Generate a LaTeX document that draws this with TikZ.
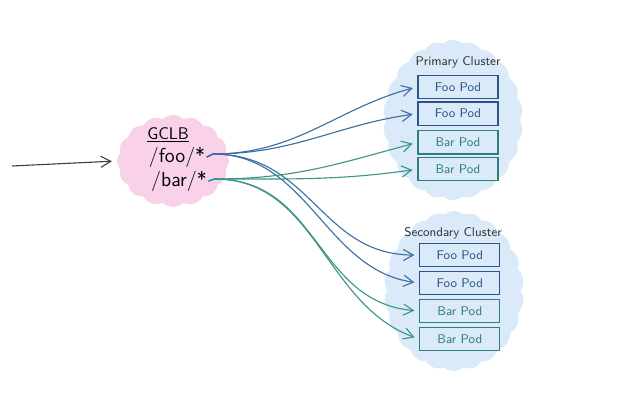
\documentclass[tikz,border=0pt]{standalone}
\usepackage{tikz}
\usetikzlibrary{shapes.symbols, arrows.meta, positioning}
\definecolor{foocol}{HTML}{2E5489}
\definecolor{barcol}{HTML}{2F7D7E}
\definecolor{fooline}{HTML}{3D6FA3}
\definecolor{barline}{HTML}{3E9587}
\definecolor{lbpink}{HTML}{F9D2EA}
\definecolor{clblue}{HTML}{DAEAF8}
\tikzstyle{lbcloud}  = [cloud, cloud puffs=16, cloud puff arc=90, aspect=1.2, minimum width=2.8cm, minimum height=2.3cm, fill=lbpink]
\tikzstyle{clcloud}  = [cloud, cloud puffs=22, cloud puff arc=80, aspect=0.85, minimum width=3.5cm, minimum height=4.0cm, fill=clblue]
\tikzstyle{route}    = [font=\sffamily\Large, inner sep=1pt]
\tikzstyle{cltitle}  = [font=\sffamily\small, text=black!80]
\tikzstyle{foopod}   = [rectangle, minimum width=2cm, minimum height=0.58cm, draw=foocol, text=foocol, thick, font=\sffamily\small]
\tikzstyle{barpod}   = [rectangle, minimum width=2cm, minimum height=0.58cm, draw=barcol, text=barcol, thick, font=\sffamily\small]
\tikzstyle{arrow}    = [thick, ->, >={Straight Barb[length=2.5mm, width=2.8mm]}, shorten >=0.12cm]

\begin{document}
\begin{tikzpicture}[x=0.025cm, y=-0.025cm, node distance=0.67cm]
    \useasboundingbox (0,0) rectangle (640,400);

    % clouds
    \node (lb)       [lbcloud] at (173,161) {};
    \node (primary)  [clcloud] at (453,120) {};
    \node (secondary)[clcloud] at (454,291) {};

    % load balancer
    \node (gclb) [route, font=\sffamily\large] at (168,135) {\underline{GCLB}};
    \node (foo)  [route] at (177,157) {/foo/*};
    \node (bar)  [route] at (179,181) {/bar/*};
    \coordinate (input) at (12,166);

    % primary cluster
    \node (ptitle) [cltitle] at (458,62) {Primary Cluster};
    \node (pfoo1) [foopod, below of=ptitle, yshift=0.05cm] {Foo Pod};
    \node (pfoo2) [foopod, below of=pfoo1] {Foo Pod};
    \node (pbar1) [barpod, below of=pfoo2, yshift=-0.05cm] {Bar Pod};
    \node (pbar2) [barpod, below of=pbar1] {Bar Pod};

    % secondary cluster
    \node (stitle) [cltitle] at (453,233) {Secondary Cluster};
    \node (sfoo1) [foopod, below of=stitle, xshift=0.17cm, yshift=0.12cm] {Foo Pod};
    \node (sfoo2) [foopod, below of=sfoo1, yshift=-0.03cm] {Foo Pod};
    \node (sbar1) [barpod, below of=sfoo2, yshift=-0.03cm] {Bar Pod};
    \node (sbar2) [barpod, below of=sbar1, yshift=-0.03cm] {Bar Pod};

    \draw [arrow, black!75] (input) -- (lb.west);

    \draw [arrow, fooline] (foo.east) -- ++(6,-3) to[out=0, in=195] (pfoo1.west);
    \draw [arrow, fooline] (foo.east) -- ++(6,-3) to[out=0, in=188] (pfoo2.west);
    \draw [arrow, fooline] (foo.east) -- ++(6,-3) to[out=0, in=180, looseness=1.1] (sfoo1.west);
    \draw [arrow, fooline] (foo.east) -- ++(6,-3) to[out=0, in=172] (sfoo2.west);

    \draw [arrow, barline] (bar.east) -- ++(6,-2) to[out=0, in=195] (pbar1.west);
    \draw [arrow, barline] (bar.east) -- ++(6,-2) to[out=0, in=188] (pbar2.west);
    \draw [arrow, barline] (bar.east) -- ++(6,-2) to[out=0, in=175, looseness=1.1] (sbar1.west);
    \draw [arrow, barline] (bar.east) -- ++(6,-2) to[out=0, in=160] (sbar2.west);

\end{tikzpicture}
\end{document}
